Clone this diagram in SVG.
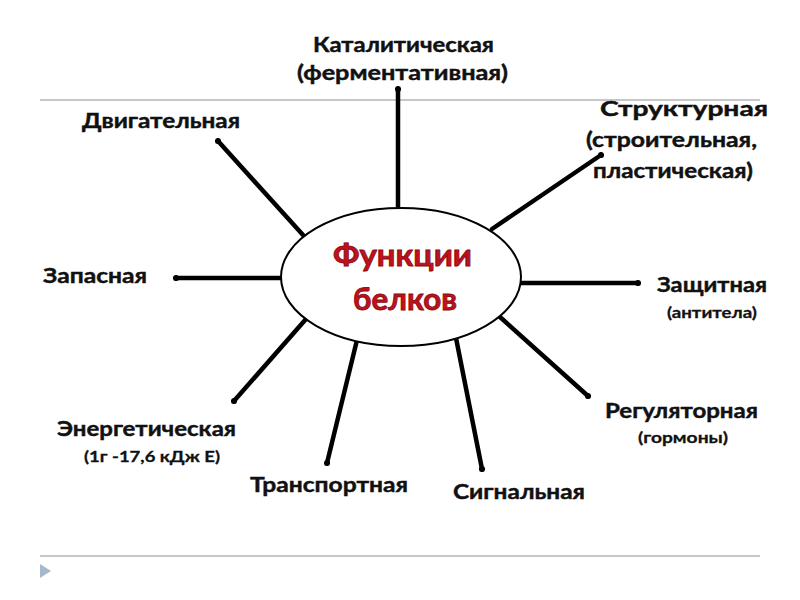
<svg xmlns="http://www.w3.org/2000/svg" width="800" height="600" viewBox="0 0 800 600">
<style>
.lbl{font-family:Lato,"Open Sans","Liberation Sans",sans-serif;font-weight:bold;fill:#111;stroke:#111;stroke-width:0.45;font-size:21.5px}
.sm{font-size:16px;stroke-width:0.3}
.title{font-family:Lato,"Open Sans","Liberation Sans",sans-serif;font-weight:bold;fill:#c0121c;stroke:#8a0a10;stroke-width:0.8;font-size:30px}
.conn line{stroke:#000;stroke-width:4.5;stroke-linecap:round;marker-end:url(#dot)}
.rule{stroke:#b4b4b4;stroke-width:1.3}
</style>
<defs>
<marker id="dot" viewBox="0 0 10 10" refX="5" refY="5" markerWidth="1.35" markerHeight="1.35">
<circle cx="5" cy="5" r="5" fill="#000"/>
</marker>
</defs>
<rect width="800" height="600" fill="#fff"/>
<line class="rule" x1="40" y1="100" x2="760" y2="100"/>
<line class="rule" x1="40" y1="556" x2="760" y2="556"/>
<polygon points="40,564 51,571 40,578" fill="#a6b8cc"/>
<g id="connectors" class="conn">
<line x1="398" y1="207" x2="398" y2="89"/>
<line x1="492" y1="229" x2="601" y2="155"/>
<line x1="303" y1="235" x2="218" y2="141"/>
<line x1="282" y1="278" x2="176" y2="278"/>
<line x1="520" y1="283" x2="638" y2="283"/>
<line x1="500" y1="317" x2="588" y2="396"/>
<line x1="306" y1="319" x2="234" y2="401"/>
<line x1="357" y1="340" x2="327" y2="463"/>
<line x1="456" y1="338" x2="482" y2="469"/>
</g>
<g id="center">
<ellipse cx="401" cy="277" rx="120" ry="69" fill="#fff" stroke="#000" stroke-width="2"/>
<text class="title" x="333" y="266" textLength="139" lengthAdjust="spacingAndGlyphs">Функции</text>
<text class="title" x="353" y="310" textLength="104" lengthAdjust="spacingAndGlyphs">белков</text>
</g>
<g id="catalytic">
<text class="lbl" x="313" y="52" textLength="181" lengthAdjust="spacingAndGlyphs">Каталитическая</text>
<text class="lbl" x="297" y="80" textLength="211" lengthAdjust="spacingAndGlyphs">(ферментативная)</text>
</g>
<g id="structural">
<text class="lbl" x="600" y="116" textLength="168" lengthAdjust="spacingAndGlyphs">Структурная</text>
<text class="lbl" x="586" y="147" textLength="171" lengthAdjust="spacingAndGlyphs">(строительная,</text>
<text class="lbl" x="593" y="178" textLength="160" lengthAdjust="spacingAndGlyphs">пластическая)</text>
</g>
<g id="motor">
<text class="lbl" x="82" y="128" textLength="158" lengthAdjust="spacingAndGlyphs">Двигательная</text>
</g>
<g id="storage">
<text class="lbl" x="43" y="283" textLength="104" lengthAdjust="spacingAndGlyphs">Запасная</text>
</g>
<g id="protective">
<text class="lbl" x="657" y="292" textLength="110" lengthAdjust="spacingAndGlyphs">Защитная</text>
<text class="lbl sm" x="667" y="318" textLength="90" lengthAdjust="spacingAndGlyphs">(антитела)</text>
</g>
<g id="regulatory">
<text class="lbl" x="605" y="418" textLength="153" lengthAdjust="spacingAndGlyphs">Регуляторная</text>
<text class="lbl sm" x="638" y="443" textLength="90" lengthAdjust="spacingAndGlyphs">(гормоны)</text>
</g>
<g id="energy">
<text class="lbl" x="57" y="436" textLength="179" lengthAdjust="spacingAndGlyphs">Энергетическая</text>
<text class="lbl sm" x="84" y="462" textLength="136" lengthAdjust="spacingAndGlyphs">(1г -17,6 кДж  Е)</text>
</g>
<g id="transport">
<text class="lbl" x="250" y="492" textLength="158" lengthAdjust="spacingAndGlyphs">Транспортная</text>
</g>
<g id="signal">
<text class="lbl" x="453" y="499" textLength="132" lengthAdjust="spacingAndGlyphs">Сигнальная</text>
</g>
</svg>
